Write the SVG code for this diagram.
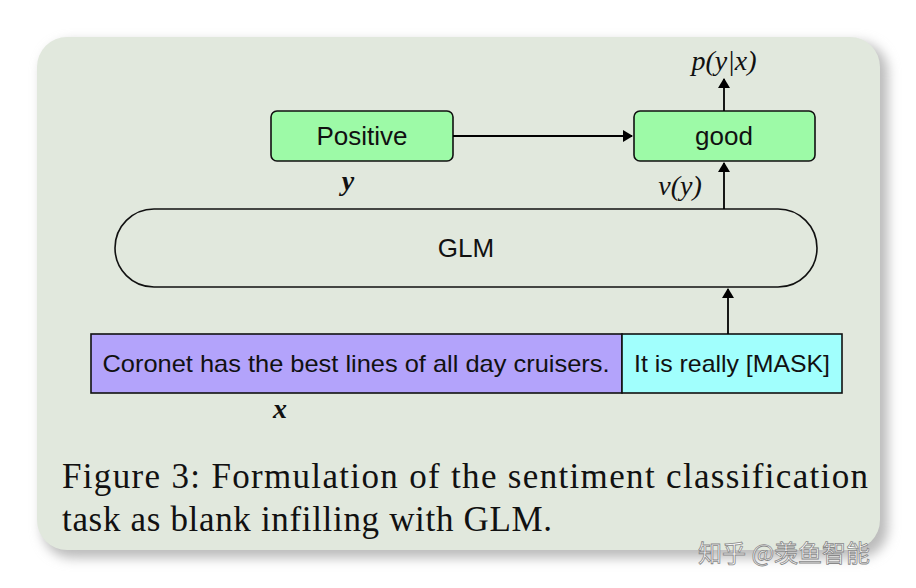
<svg xmlns="http://www.w3.org/2000/svg" width="916" height="588" viewBox="0 0 916 588">
<defs>
<marker id="ah" markerWidth="10" markerHeight="12" refX="9" refY="6" orient="auto" markerUnits="userSpaceOnUse"><path d="M0,0 L10,6 L0,12 Z" fill="#000"/></marker>
<filter id="sh" x="-10%" y="-10%" width="120%" height="120%"><feGaussianBlur stdDeviation="6"/></filter>
</defs>
<style>
.b{stroke:#111;stroke-width:1.6}
.s{font-family:"Liberation Sans",Arial,sans-serif;font-size:24px;fill:#111;text-anchor:middle}
.g{font-size:26px}
.m{font-family:"Liberation Serif","Times New Roman",serif;font-style:italic;font-size:28px;fill:#111;text-anchor:middle}
.c{font-family:"Liberation Serif","Times New Roman",serif;font-size:35px;fill:#111}
.l{stroke:#000;stroke-width:1.8;fill:none}
</style>
<rect width="916" height="588" fill="#fff"/>
<rect x="42" y="42" width="846" height="516" rx="30" fill="#bbb" filter="url(#sh)"/>
<rect x="37" y="37" width="843" height="513" rx="30" fill="#e1e8dd"/>
<g id="positive"><rect class="b" x="271" y="111" width="182" height="50" rx="6" fill="#9dfaa7"/><text class="s g" x="362" y="145">Positive</text></g>
<g id="good"><rect class="b" x="634" y="111" width="181" height="50" rx="6" fill="#9dfaa7"/><text class="s g" x="724" y="145">good</text></g>
<g id="glm"><rect class="b" x="115" y="209" width="702" height="78" rx="39" fill="none"/><text class="s g" x="466" y="257">GLM</text></g>
<g id="input"><rect class="b" x="91" y="334" width="531" height="59" fill="#b3a3fb"/><text class="s" x="356" y="372" textLength="507" lengthAdjust="spacingAndGlyphs">Coronet has the best lines of all day cruisers.</text>
<rect class="b" x="622" y="334" width="220" height="59" fill="#a1fffd"/><text class="s" x="732" y="372" textLength="196" lengthAdjust="spacingAndGlyphs">It is really [MASK]</text></g>
<g id="connectors">
<line class="l" x1="453" y1="136" x2="632" y2="136" marker-end="url(#ah)"/>
<line class="l" x1="724" y1="209" x2="724" y2="163" marker-end="url(#ah)"/>
<line class="l" x1="724" y1="111" x2="724" y2="79" marker-end="url(#ah)"/>
<line class="l" x1="728" y1="334" x2="728" y2="289" marker-end="url(#ah)"/>
</g>
<g id="labels">
<text class="m" x="724" y="70">p(y|x)</text>
<text class="m" x="680" y="195">v(y)</text>
<text class="m" x="348" y="190" font-weight="bold">y</text>
<text class="m" x="280" y="418" font-weight="bold">x</text>
</g>
<text class="c" x="62" y="488" textLength="806" lengthAdjust="spacing">Figure 3: Formulation of the sentiment classification</text>
<text class="c" x="62" y="531" textLength="490" lengthAdjust="spacing">task as blank infilling with GLM.</text>
<text x="698" y="562" font-family="'Noto Sans CJK SC',sans-serif" font-size="24" fill="#fff" stroke="#888" stroke-width="0.8">知乎 @羡鱼智能</text>
</svg>
